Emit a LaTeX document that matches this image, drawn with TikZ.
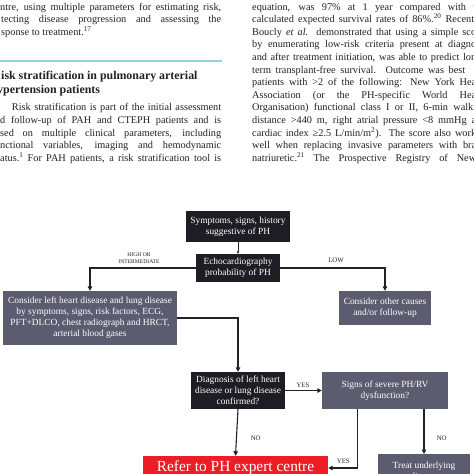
\documentclass[tikz,border=0pt]{standalone}
\usepackage{fontspec}
\setmainfont{Liberation Serif}
\usetikzlibrary{arrows.meta}
\definecolor{txt}{HTML}{222222}
\definecolor{darkfill}{HTML}{1E1D24}
\definecolor{slatefill}{HTML}{5B5C70}
\definecolor{redfill}{HTML}{EE1D25}
\definecolor{rulecol}{HTML}{8FD8D0}
\newcommand{\bodyfont}{\fontsize{10.3}{12}\selectfont}
\newcommand{\sq}[1]{\textsuperscript{#1}}
\newcommand{\jl}[2]{\makebox[#1][s]{#2}}
\begin{document}
\begin{tikzpicture}[x=1pt,y=-1pt,
  bodyline/.style={anchor=base west, inner sep=0pt, text=txt, font=\bodyfont},
  headline/.style={anchor=base west, inner sep=0pt, text=txt, font=\fontsize{11.9}{13}\selectfont\bfseries},
  boxbase/.style={text=white, align=center, inner sep=0pt, font=\fontsize{9.4}{11}\selectfont},
  darkbox/.style={boxbase, fill=darkfill},
  slatebox/.style={boxbase, fill=slatefill},
  conn/.style={draw=txt, line width=1.1pt, -{Triangle[length=4.5pt,width=4.5pt]}},
  thinconn/.style={draw=txt, line width=0.5pt, -{Triangle[length=2.5pt,width=2.5pt]}},
  lab/.style={font=\fontsize{6.8}{7}\selectfont, text=txt, inner sep=0pt},
  smalllab/.style={font=\fontsize{5.6}{7.6}\selectfont, text=txt, inner sep=0pt, align=center}
]
\path[use as bounding box] (0,0) rectangle (474,474);
\clip (0,0) rectangle (474,474);
\fill[white] (0,0) rectangle (474,474);

% left column
\node[bodyline] (l0) at (0,10) {\jl{221pt}{ntre, using multiple parameters for estimating risk,}};
\node[bodyline] (l1) at (1,22.6) {\jl{220pt}{tecting disease progression and assessing the}};
\node[bodyline] (l2) at (1,35.2) {sponse to treatment.\sq{17}};
\draw[rulecol, line width=2.6pt] (0,61) -- (222,61);
\node[headline] (h0) at (1,79) {isk stratification in pulmonary arterial};
\node[headline] (h1) at (-3,93) {ypertension patients};
\node[bodyline] (p0) at (11.7,110.8) {\jl{209.3pt}{Risk stratification is part of the initial assessment}};
\node[bodyline] (p1) at (0,123.4) {\jl{221pt}{d follow-up of PAH and CTEPH patients and is}};
\node[bodyline] (p2) at (0,136) {\jl{221pt}{sed on multiple clinical parameters, including}};
\node[bodyline] (p3) at (0,148.6) {\jl{221pt}{nctional variables, imaging and hemodynamic}};
\node[bodyline] (p4) at (0,161.2) {\jl{221pt}{atus.\sq{1} For PAH patients, a risk stratification tool is}};

% right column
\node[bodyline] (r0) at (252,10) {\jl{224pt}{equation, was 97\% at 1 year compared with t}};
\node[bodyline] (r1) at (252,22.6) {\jl{222pt}{calculated expected survival rates of 86\%.\sq{20} Recent}};
\node[bodyline] (r2) at (252,35.2) {\jl{224pt}{Boucly \textit{et al.} demonstrated that using a simple sco}};
\node[bodyline] (r3) at (252,47.8) {\jl{224pt}{by enumerating low-risk criteria present at diagno}};
\node[bodyline] (r4) at (252,60.4) {\jl{224pt}{and after treatment initiation, was able to predict lon}};
\node[bodyline] (r5) at (252,73) {\jl{213pt}{term transplant-free survival. Outcome was best}};
\node[bodyline] (r6) at (252,85.6) {\jl{224pt}{patients with >2 of the following: New York Hea}};
\node[bodyline] (r7) at (252,98.2) {\jl{224pt}{Association (or the PH-specific World Hea}};
\node[bodyline] (r8) at (252,110.8) {\jl{224pt}{Organisation) functional class I or II, 6-min walki}};
\node[bodyline] (r9) at (252,123.4) {\jl{224pt}{distance >440 m, right atrial pressure <8 mmHg a}};
\node[bodyline] (r10) at (252,136) {\jl{224pt}{cardiac index ≥2.5 L/min/m\sq{2}). The score also work}};
\node[bodyline] (r11) at (252,148.6) {\jl{224pt}{well when replacing invasive parameters with bra}};
\node[bodyline] (r12) at (252,161.2) {\jl{224pt}{natriuretic.\sq{21} The Prospective Registry of New}};

% flowchart
\node[darkbox, minimum width=104pt, minimum height=31pt] (b1) at (238,226.5) {Symptoms, signs, history\\suggestive of PH};
\node[darkbox, minimum width=84pt, minimum height=28pt] (b2) at (238,268) {Echocardiography\\probability of PH};
\node[slatebox, minimum width=174pt, minimum height=54pt] (b3) at (90,318) {Consider left heart disease and lung disease\\by symptoms, signs, risk factors, ECG,\\PFT+DLCO, chest radiograph and HRCT,\\arterial blood gases};
\node[slatebox, minimum width=92pt, minimum height=34pt] (b4) at (385,308) {Consider other causes\\and/or follow-up};
\node[darkbox, minimum width=94pt, minimum height=37pt] (b5) at (238,390.5) {Diagnosis of left heart\\disease or lung disease\\confirmed?};
\node[slatebox, minimum width=126pt, minimum height=37pt] (b6) at (385,390.5) {Signs of severe PH/RV\\dysfunction?};
\node[fill=redfill, text=white, inner sep=0pt, minimum width=185pt, minimum height=24pt, font=\fontsize{15.4}{17}\selectfont] (rf) at (235.5,468) {Refer to PH expert centre};
\node[slatebox, minimum width=92pt, minimum height=34pt, anchor=north] (b8) at (424,454) {Treat underlying\\disease};

\coordinate (c1) at (357.7,468);
\draw[thinconn] (b1.south) -- (b2.north);
\draw[conn] (b2.west) -| (b3.north);
\draw[conn] (b2.east) -| (b4.north);
\draw[conn] (b3.east) -| (b5.north);
\draw[conn] (b5.east) -- (b6.west);
\draw[conn] (b5.south) -- (rf.north);
\draw[conn] (b6.south -| c1) |- (rf.east);
\draw[conn] (b6.south -| b8.north) -- (b8.north);

\node[smalllab] (lhi) at (139,258) {HIGH OR\\INTERMEDIATE};
\node[lab] (llow) at (336,260.7) {LOW};
\node[lab] (ly1) at (303,385) {YES};
\node[lab] (ln1) at (255.7,438.3) {NO};
\node[lab] (ly2) at (343.3,461) {YES};
\node[lab] (ln2) at (441.7,438.3) {NO};
\end{tikzpicture}
\end{document}
